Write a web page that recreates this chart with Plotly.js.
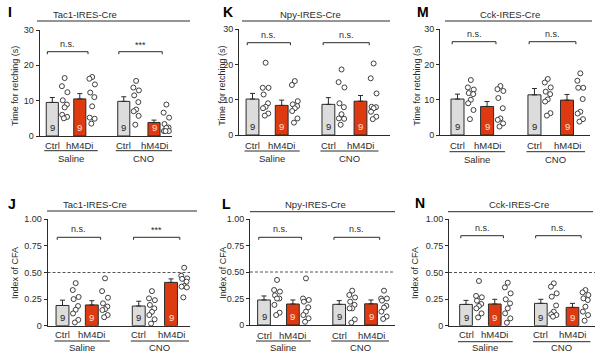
<!DOCTYPE html>
<html>
<head>
<meta charset="utf-8">
<script src="https://cdn.plot.ly/plotly-3.0.1.min.js"></script>
<style>html,body{margin:0;padding:0;background:#fff;}#chart{width:600px;height:362px;}</style>
</head>
<body>
<div id="chart"></div>
<script>
// ---------- DATA ----------
const conditions = ['Ctrl', 'hM4Di', 'Ctrl', 'hM4Di'];
const treatments = ['Saline', 'CNO'];
const nLabels = ['9', '9', '9', '9'];
const panelLetters = ['I', 'K', 'M', 'J', 'L', 'N'];
const panelTitles = ['Tac1-IRES-Cre', 'Npy-IRES-Cre', 'Cck-IRES-Cre', 'Tac1-IRES-Cre', 'Npy-IRES-Cre', 'Cck-IRES-Cre'];
const timeTickVals = [0, 10, 20, 30];
const timeTickText = ['0', '10', '20', '30'];
const cfaTickVals = [0, 0.25, 0.5, 0.75, 1.0];
const cfaTickText = ['0', '0.25', '0.50', '0.75', '1.00'];

// Time for retching (s): means, SEM, individual animals [Saline Ctrl, Saline hM4Di, CNO Ctrl, CNO hM4Di]
const tac1TimeMean = [9.5, 10.5, 9.8, 3.8];
const tac1TimeSem = [1.4, 1.5, 1.3, 0.7];
const tac1TimeDots = [
  [16.4, 14.1, 12.4, 10.1, 8.9, 8.1, 6.0, 5.4, 5.0],
  [16.7, 16.2, 14.6, 12.3, 11.0, 8.4, 5.2, 4.9, 3.5],
  [15.6, 13.7, 12.9, 11.5, 9.6, 7.5, 7.0, 5.7, 3.2],
  [8.9, 6.6, 5.2, 3.4, 2.4, 2.3, 1.4, 1.4, 1.4]
];
const tac1TimeSig = ['n.s.', '***'];

const npyTimeMean = [10.2, 8.4, 8.7, 9.6];
const npyTimeSem = [1.6, 1.5, 1.9, 1.6];
const npyTimeDots = [
  [20.5, 13.4, 13.4, 11.5, 9.0, 8.0, 7.6, 6.1, 5.5],
  [15.3, 14.2, 9.6, 8.7, 8.2, 7.6, 6.8, 4.7, 3.5],
  [18.6, 15.0, 13.5, 9.0, 7.9, 5.9, 4.7, 4.6, 2.9],
  [20.3, 16.1, 11.8, 8.0, 7.9, 7.6, 6.6, 5.2, 4.5]
];
const npyTimeSig = ['n.s.', 'n.s.'];

const cckTimeMean = [10.2, 8.1, 11.4, 9.9];
const cckTimeSem = [1.4, 1.4, 1.8, 1.6];
const cckTimeDots = [
  [15.6, 13.5, 12.9, 11.9, 11.6, 10.0, 9.0, 7.1, 4.5],
  [13.9, 13.0, 12.5, 10.5, 7.6, 4.7, 4.3, 3.3, 2.4],
  [15.9, 14.9, 13.5, 12.3, 11.6, 10.1, 9.5, 6.2, 5.5],
  [17.5, 15.4, 13.4, 13.4, 10.2, 6.6, 6.1, 4.5, 3.8]
];
const cckTimeSig = ['n.s.', 'n.s.'];

// Index of CFA
const tac1CfaMean = [0.19, 0.195, 0.185, 0.407];
const tac1CfaSem = [0.05, 0.04, 0.045, 0.033];
const tac1CfaDots = [
  [0.40, 0.335, 0.27, 0.25, 0.185, 0.15, 0.115, 0.055, 0.03],
  [0.445, 0.325, 0.263, 0.21, 0.18, 0.155, 0.147, 0.10, 0.08],
  [0.325, 0.257, 0.24, 0.195, 0.163, 0.13, 0.10, 0.06, 0.02],
  [0.545, 0.47, 0.445, 0.44, 0.414, 0.373, 0.367, 0.36, 0.266]
];
const tac1CfaSig = ['n.s.', '***'];

const npyCfaMean = [0.236, 0.198, 0.195, 0.2];
const npyCfaSem = [0.038, 0.038, 0.035, 0.036];
const npyCfaDots = [
  [0.425, 0.33, 0.315, 0.28, 0.25, 0.25, 0.19, 0.116, 0.094],
  [0.44, 0.25, 0.236, 0.22, 0.167, 0.126, 0.094, 0.063, 0.03],
  [0.324, 0.283, 0.26, 0.22, 0.19, 0.157, 0.157, 0.053, 0.022],
  [0.324, 0.25, 0.25, 0.23, 0.18, 0.164, 0.126, 0.08, 0.057]
];
const npyCfaSig = ['n.s.', 'n.s.'];

const cckCfaMean = [0.2, 0.204, 0.21, 0.172];
const cckCfaSem = [0.038, 0.044, 0.038, 0.038];
const cckCfaDots = [
  [0.42, 0.28, 0.267, 0.235, 0.204, 0.185, 0.163, 0.116, 0.078],
  [0.404, 0.36, 0.304, 0.248, 0.21, 0.163, 0.116, 0.069, 0.028],
  [0.398, 0.367, 0.304, 0.273, 0.19, 0.132, 0.107, 0.10, 0.085],
  [0.335, 0.313, 0.288, 0.257, 0.241, 0.179, 0.132, 0.10, 0.047]
];
const cckCfaSig = ['n.s.', 'n.s.'];

// ---------- STYLE / LAYOUT ----------
const W = 600, H = 362;
const FONT = 'Liberation Sans, Arial, Helvetica, sans-serif';
const INK = '#2b2b2b';
const CTRL_FILL = '#dcdcdc';
const HM_FILL = '#dd3a12';
const XPOS = [0, 1, 2.6, 3.7];
const BAR_W = 0.44;
const DOT_OFFSET = 0.45;
const JIT = [0.0, -0.1, 0.1, -0.07, 0.08, 0.0, -0.09, 0.09, -0.03];
const FS = 9;
const LFS = 9.5;

const panels = [
  {mean: tac1TimeMean, sem: tac1TimeSem, dots: tac1TimeDots, sig: tac1TimeSig, ymax: 30, tv: timeTickVals, tt: timeTickText, ytitle: 'Time for retching (s)',
   axL: 39.5, axR: 172, yTop: 30, y0: 136, p0: 52.3, p3: 154, brY: 51.7, titleX: 85, titleY: 15, tlY: 21, tlX0: 37, tlX1: 190, letX: 6, letY: 12, ytX: 15, ytY: 86, ctrlY: 145, glY: 150.7, gY: 158.3, dashed: false},
  {mean: npyTimeMean, sem: npyTimeSem, dots: npyTimeDots, sig: npyTimeSig, ymax: 30, tv: timeTickVals, tt: timeTickText, ytitle: 'Time for retching (s)',
   axL: 239, axR: 390, yTop: 29.3, y0: 135, p0: 252.5, p3: 360.5, brY: 42.7, titleX: 310, titleY: 15, tlY: 21, tlX0: 242, tlX1: 390, letX: 221, letY: 12, ytX: 221.7, ytY: 86, ctrlY: 145, glY: 151, gY: 158, dashed: false},
  {mean: cckTimeMean, sem: cckTimeSem, dots: cckTimeDots, sig: cckTimeSig, ymax: 30, tv: timeTickVals, tt: timeTickText, ytitle: 'Time for retching (s)',
   axL: 440, axR: 590, yTop: 29.3, y0: 135, p0: 457.5, p3: 567, brY: 41.7, titleX: 510, titleY: 15, tlY: 21, tlX0: 445, tlX1: 592, letX: 415, letY: 12, ytX: 416.7, ytY: 86, ctrlY: 145, glY: 151.7, gY: 159.3, dashed: false},
  {mean: tac1CfaMean, sem: tac1CfaSem, dots: tac1CfaDots, sig: tac1CfaSig, ymax: 1, tv: cfaTickVals, tt: cfaTickText, ytitle: 'Index of CFA',
   axL: 47.5, axR: 190, yTop: 219.3, y0: 325.7, p0: 62.5, p3: 171, brY: 237.3, titleX: 95, titleY: 204.3, tlY: 211, tlX0: 47, tlX1: 197, letX: 6, letY: 204, ytX: 15, ytY: 273, ctrlY: 334, glY: 341, gY: 347, dashed: true},
  {mean: npyCfaMean, sem: npyCfaSem, dots: npyCfaDots, sig: npyCfaSig, ymax: 1, tv: cfaTickVals, tt: cfaTickText, ytitle: 'Index of CFA',
   axL: 250, axR: 395, yTop: 219, y0: 325, p0: 264, p3: 371, brY: 237.3, titleX: 315, titleY: 204, tlY: 211.7, tlX0: 250, tlX1: 395, letX: 220, letY: 204, ytX: 222.7, ytY: 273, ctrlY: 335, glY: 341, gY: 347.3, dashed: true},
  {mean: cckCfaMean, sem: cckCfaSem, dots: cckCfaDots, sig: cckCfaSig, ymax: 1, tv: cfaTickVals, tt: cfaTickText, ytitle: 'Index of CFA',
   axL: 449, axR: 595, yTop: 219.3, y0: 325.7, p0: 466, p3: 572.5, brY: 235.7, titleX: 519, titleY: 204, tlY: 211.7, tlX0: 448, tlX1: 593, letX: 413, letY: 203, ytX: 415, ytY: 273, ctrlY: 334, glY: 341.7, gY: 347, dashed: true}
];

const px = v => v / W;
const py = v => 1 - v / H;

const data = [];
const layout = {
  width: W, height: H,
  margin: {l: 0, r: 0, t: 0, b: 0, pad: 0},
  paper_bgcolor: '#fff', plot_bgcolor: 'rgba(0,0,0,0)',
  showlegend: false,
  font: {family: FONT, color: INK, size: FS},
  shapes: [], annotations: []
};

panels.forEach((p, i) => {
  const sfx = i === 0 ? '' : String(i + 1);
  const xa = 'x' + sfx, ya = 'y' + sfx;
  const u = (p.p3 - p.p0) / (XPOS[3] - XPOS[0]);
  const xr = [(p.axL - p.p0) / u, (p.axR - p.p0) / u];
  const pxPerY = (p.y0 - p.yTop) / p.ymax;

  layout['xaxis' + sfx] = {
    domain: [px(p.axL), px(p.axR)], range: xr, anchor: ya,
    showline: true, linecolor: INK, linewidth: 1, ticks: '', showticklabels: false,
    showgrid: false, zeroline: false, fixedrange: true, automargin: false
  };
  layout['yaxis' + sfx] = {
    domain: [py(p.y0), py(p.yTop)], range: [0, p.ymax], anchor: xa,
    showline: true, linecolor: INK, linewidth: 1, ticks: 'outside', ticklen: 3, tickwidth: 1, tickcolor: INK,
    tickvals: p.tv, ticktext: p.tt, tickfont: {family: FONT, size: FS, color: INK},
    showgrid: false, zeroline: false, fixedrange: true, automargin: false
  };

  // bars
  data.push({
    type: 'bar', x: XPOS, y: p.mean, width: BAR_W, xaxis: xa, yaxis: ya,
    marker: {color: conditions.map((c, k) => k % 2 === 0 ? CTRL_FILL : HM_FILL), line: {color: INK, width: 1}},
    error_y: {type: 'data', symmetric: false, array: p.sem, arrayminus: p.sem.map(() => 0), color: INK, thickness: 1, width: 2.5},
    hoverinfo: 'skip'
  });
  // dots
  const dx = [], dy = [];
  p.dots.forEach((arr, g) => arr.forEach((v, j) => { dx.push(XPOS[g] + DOT_OFFSET + JIT[j % JIT.length]); dy.push(v); }));
  data.push({
    type: 'scatter', mode: 'markers', x: dx, y: dy, xaxis: xa, yaxis: ya, cliponaxis: false,
    marker: {symbol: 'circle', size: 5, color: '#fff', line: {color: INK, width: 0.9}},
    hoverinfo: 'skip'
  });

  // dashed 0.5 line
  if (p.dashed) {
    layout.shapes.push({type: 'line', xref: xa, yref: ya, x0: xr[0], x1: xr[1], y0: 0.5, y1: 0.5,
      line: {color: '#555', width: 1, dash: '3px,2px'}});
  }

  // title & underline
  layout.annotations.push({xref: 'paper', yref: 'paper', x: px(p.titleX), y: py(p.titleY), text: panelTitles[i],
    showarrow: false, xanchor: 'center', yanchor: 'middle', font: {family: FONT, size: LFS, color: INK}});
  layout.shapes.push({type: 'line', xref: 'paper', yref: 'paper', x0: px(p.tlX0), x1: px(p.tlX1), y0: py(p.tlY), y1: py(p.tlY),
    line: {color: INK, width: 1}});
  // panel letter
  layout.annotations.push({xref: 'paper', yref: 'paper', x: px(p.letX), y: py(p.letY), text: '<b>' + panelLetters[i] + '</b>',
    showarrow: false, xanchor: 'left', yanchor: 'middle', font: {family: FONT, size: 14, color: '#000'}});
  // y title
  layout.annotations.push({xref: 'paper', yref: 'paper', x: px(p.ytX), y: py(p.ytY), text: p.ytitle, textangle: -90,
    showarrow: false, xanchor: 'center', yanchor: 'middle', font: {family: FONT, size: FS, color: INK}});

  // condition labels, n labels
  conditions.forEach((c, k) => {
    layout.annotations.push({xref: xa, yref: 'paper', x: XPOS[k], y: py(p.ctrlY), text: c,
      showarrow: false, xanchor: 'center', yanchor: 'middle', font: {family: FONT, size: LFS, color: INK}});
    layout.annotations.push({xref: xa, yref: ya, x: XPOS[k], y: 0, yshift: 1, text: nLabels[k],
      showarrow: false, xanchor: 'center', yanchor: 'bottom',
      font: {family: FONT, size: 9.5, color: k % 2 === 0 ? '#222' : '#ffe0d6'}});
  });

  // treatment group lines & labels, brackets
  treatments.forEach((t, g) => {
    const a = XPOS[2 * g], b = XPOS[2 * g + 1];
    const gx0 = a - 8 / u, gx1 = b + 18 / u;
    layout.shapes.push({type: 'line', xref: xa, yref: 'paper', x0: gx0, x1: gx1, y0: py(p.glY), y1: py(p.glY),
      line: {color: INK, width: 1}});
    layout.annotations.push({xref: xa, yref: 'paper', x: (gx0 + gx1) / 2, y: py(p.gY), text: t,
      showarrow: false, xanchor: 'center', yanchor: 'middle', font: {family: FONT, size: LFS, color: INK}});
    const by = (p.y0 - p.brY) / pxPerY;
    const bh = 2.5 / pxPerY;
    const bx0 = a - 0.18, bx1 = b + 0.3;
    layout.shapes.push({type: 'path', xref: xa, yref: ya,
      path: `M ${bx0},${by - bh} L ${bx0},${by} L ${bx1},${by} L ${bx1},${by - bh}`,
      line: {color: INK, width: 1}});
    layout.annotations.push({xref: xa, yref: ya, x: (bx0 + bx1) / 2, y: by, yshift: p.sig[g] === '***' ? 0 : 1, text: p.sig[g],
      showarrow: false, xanchor: 'center', yanchor: 'bottom', font: {family: FONT, size: FS, color: INK}});
  });
});

Plotly.newPlot('chart', data, layout, {staticPlot: true, displayModeBar: false});
</script>
</body>
</html>
